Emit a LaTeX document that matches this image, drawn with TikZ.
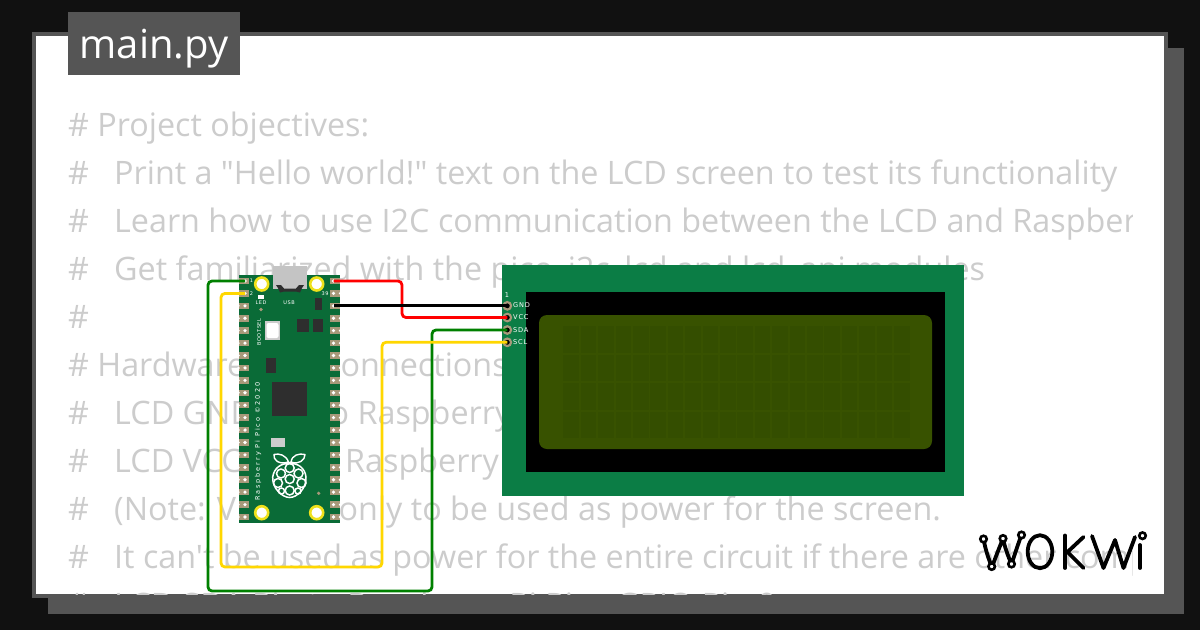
\documentclass[tikz,border=0pt]{standalone}
\usepackage{fontspec}
\setmainfont{Open Sans}
\newfontfamily\codefont{Open Sans}
\newfontfamily\tinyfont[LetterSpace=12]{DejaVu Sans}
\newfontfamily\widefont[LetterSpace=30]{DejaVu Sans}
\usepackage{tikz}

\definecolor{pageblack}{HTML}{111111}
\definecolor{framegray}{HTML}{555555}
\definecolor{codegray}{HTML}{CCCCCC}
\definecolor{usbgray}{HTML}{C4C4C4}
\definecolor{picogreen}{HTML}{0A6B37}
\definecolor{padtan}{HTML}{A8997A}
\definecolor{chipgray}{HTML}{2E2E2E}
\definecolor{ringyellow}{HTML}{EFE11B}
\definecolor{lcdgreen}{HTML}{0B7D45}
\definecolor{lcdscreen}{HTML}{385200}
\definecolor{lcdcell}{HTML}{344E00}
\definecolor{wiregreen}{HTML}{008000}
\definecolor{wireyellow}{HTML}{FFD700}

\tikzset{
  codeline/.style={anchor=base west, inner sep=0pt, text=codegray, font=\codefont\fontsize{32.3}{38}\selectfont},
  picopad/.style={minimum width=10.5pt, minimum height=6.5pt, inner sep=0pt, fill=padtan},
  padhole/.style={circle, fill=white, minimum size=3.6pt, inner sep=0pt},
  padnotch/.style={circle, fill=white, minimum size=2.6pt, inner sep=0pt},
  mountring/.style={circle, draw=ringyellow, line width=2.6pt, fill=white, minimum size=13pt, inner sep=0pt},
  chip/.style={fill=chipgray},
  picotext/.style={inner sep=0pt, text=white, font=\tinyfont\fontsize{5}{6}\selectfont},
  lcdpin/.style={circle, draw=padtan, line width=2.2pt, fill=black, minimum size=7.5pt, inner sep=0pt},
  lcdtext/.style={anchor=west, inner sep=0pt, text=white, font=\tinyfont\fontsize{6.6}{8}\selectfont},
  wire/.style={line width=2.8pt, rounded corners=4pt},
  logostroke/.style={line width=3.8pt, line cap=round, line join=round, draw=black},
  logodot/.style={circle, draw=black, line width=2.6pt, fill=white, minimum size=6.5pt, inner sep=0pt},
  berry/.style={circle, draw=white, line width=1.5pt, minimum size=9pt, inner sep=0pt},
}

\begin{document}
\begin{tikzpicture}[x=1pt, y=-1pt]
  \useasboundingbox (0, 0) rectangle (1200, 630);
  % page and frame
  \fill[pageblack] (0, 0) rectangle (1200, 630);
  \fill[framegray] (48, 48) rectangle (1184, 614);
  \fill[framegray] (32, 32) rectangle (1168, 598);
  \fill[white] (36, 36) rectangle (1164, 594);
  \fill[framegray] (68, 12) rectangle (240, 75);
  \node[anchor=base, inner sep=0pt, text=white, font=\fontsize{40}{46}\selectfont] (title) at (154, 58) {main.py};

  % code text
  \begin{scope}
    \clip (36, 36) rectangle (1132, 594);
    \node[codeline] (l1) at (68, 136) {\#\ Project objectives:};
    \node[codeline] (l2) at (68, 184) {\#\ \ \ Print a "Hello world!" text on the LCD screen to test its functionality};
    \node[codeline] (l3) at (68, 232) {\#\ \ \ Learn how to use I2C communication between the LCD and Raspberry Pi Pico};
    \node[codeline] (l4) at (68, 280) {\#\ \ \ Get familiarized with the pico\_i2c\_lcd and lcd\_api modules};
    \node[codeline] (l5) at (68, 328) {\#};
    \node[codeline] (l6) at (68, 376) {\#\ Hardware pins connections:};
    \node[codeline] (l7) at (68, 424) {\#\ \ \ LCD GND Pin to Raspberry Pi Pico GND};
    \node[codeline] (l8) at (68, 472) {\#\ \ \ LCD VCC Pin to Raspberry Pi Pico VBUS};
    \node[codeline] (l9) at (68, 520) {\#\ \ \ (Note: VBUS is only to be used as power for the screen.};
    \node[codeline] (l10) at (68, 568) {\#\ \ \ It can't be used as power for the entire circuit if there are other components};
    \node[codeline] (l11) at (68, 616) {\#\ \ \ LCD SDA Pin to Raspberry Pi Pico GPIO Pin 0};
  \end{scope}

  % pico board
  \fill[picogreen] (238.5, 275) rectangle (340, 523);
  \fill[usbgray] (273, 265.5) rectangle (307, 289);
  \fill[chipgray] (276, 285) -- (281, 285) -- (284, 288.5) -- (296, 288.5) -- (299, 285) -- (304, 285) -- (302, 288) -- (300, 292.5) -- (296, 291.5) -- (284, 291.5) -- (280, 292.5) -- (278, 288) -- cycle;
  \foreach \n in {1,...,20} {
    \pgfmathsetmacro{\py}{281 + (\n - 1) * 12.42}
    \node[picopad] (pl\n) at (243.75, \py) {};
    \node[picopad] (pr\n) at (334.75, \py) {};
    \node[padhole] (hl\n) at (245, \py) {};
    \node[padhole] (hr\n) at (333.5, \py) {};
    \node[padnotch] (nl\n) at (238.5, \py) {};
    \node[padnotch] (nr\n) at (340, \py) {};
  }
  \node[mountring] (m1) at (261.7, 284) {};
  \node[mountring] (m2) at (316.7, 284) {};
  \node[mountring] (m3) at (261.7, 512.7) {};
  \node[mountring] (m4) at (316.7, 512.7) {};
  \fill[chip] (315, 298.3) rectangle (321.7, 310);
  \fill[chip] (297.3, 319.3) rectangle (309.3, 331.7);
  \fill[chip] (313.3, 319.3) rectangle (323.3, 331.7);
  \fill[chip] (266, 358.3) rectangle (276, 372.7);
  \fill[chip] (272, 381.7) rectangle (306.7, 415.7);
  \fill[white] (258, 295) rectangle (264, 298.5);
  \fill[padtan] (261, 309.5) circle (1.8);
  \fill[padtan] (318.7, 493.3) circle (1.8);
  \fill[codegray] (265, 321) rectangle (280, 340);
  \fill[white, rounded corners=2pt] (266.5, 323) rectangle (278.5, 338);
  \fill[codegray] (270.7, 437.7) rectangle (285, 447.3);
  \node[picotext] (ledlabel) at (261, 302.5) {LED};
  \node[picotext] (usblabel) at (289, 302.5) {USB};
  \node[picotext] (pinone) at (251.5, 281) {1};
  \node[picotext] (pintwo) at (251.5, 293.5) {2};
  \node[picotext] (pinforty) at (325, 293.5) {39};
  \node[picotext, rotate=90] (bootlabel) at (259, 332) {BOOTSEL};
  \node[picotext, rotate=90, anchor=west, font=\widefont\fontsize{6.5}{8}\selectfont] (picolabel) at (258, 501) {Raspberry Pi Pico \textcopyright 2020};

  % raspberry logo
  \draw[white, line width=1.4pt, line join=round] (288.5, 462) .. controls (286, 455) and (279, 453) .. (274, 454.5) .. controls (273, 460) and (279, 465) .. (288.5, 462) .. controls (290, 464) and (291, 464) .. (291, 462) .. controls (299, 465) and (305, 460) .. (305, 454.5) .. controls (299, 453) and (292, 455) .. (291, 462);
  \draw[white, line width=1.5pt, fill=picogreen] (289.7, 463.5) .. controls (298, 463) and (305, 468) .. (306, 477) .. controls (307, 488) and (297, 497.5) .. (289.7, 497.5) .. controls (282, 497.5) and (272, 488) .. (272.7, 477) .. controls (274, 468) and (281, 463) .. (289.7, 463.5) -- cycle;
  \node[berry] (b1) at (289.7, 468) {};
  \node[berry] (b2) at (281, 473.5) {};
  \node[berry] (b3) at (298.5, 473.5) {};
  \node[berry] (b4) at (289.7, 479) {};
  \node[berry] (b5) at (278, 483) {};
  \node[berry] (b6) at (301.5, 483) {};
  \node[berry] (b7) at (289.7, 490.5) {};
  \node[berry, minimum size=6pt] (b8) at (281.5, 491) {};
  \node[berry, minimum size=6pt] (b9) at (298, 491) {};

  % lcd board
  \fill[lcdgreen] (502, 265) rectangle (964, 496);
  \fill[black] (526, 292) rectangle (945, 472);
  \fill[lcdscreen, rounded corners=8pt] (539, 315) rectangle (932, 449);
  \foreach \col in {0,...,19} {
    \foreach \row in {0,...,3} {
      \fill[lcdcell] (563.3 + \col * 17.4, 326 + \row * 28.5) rectangle ++(15.6, 26.5);
    }
  }
  \node[lcdpin] (gnd) at (507.3, 305.84) {};
  \node[lcdpin] (vcc) at (507.3, 317.5) {};
  \node[lcdpin] (sda) at (507.3, 330) {};
  \node[lcdpin] (scl) at (507.3, 342.3) {};
  \node[lcdtext] (gndlabel) at (513, 305) {GND};
  \node[lcdtext] (vcclabel) at (513, 317.5) {VCC};
  \node[lcdtext] (sdalabel) at (513, 330) {SDA};
  \node[lcdtext] (scllabel) at (513, 342.3) {SCL};
  \node[lcdtext, anchor=center] (lcdone) at (507, 295.5) {1};

  % wires
  \coordinate (redtop) at (402, 281);
  \coordinate (greenbottom) at (208, 591);
  \coordinate (greenright) at (432, 591);
  \coordinate (yellowbottom) at (221, 567);
  \coordinate (yellowright) at (382, 567);
  \draw[wire, red] (hr1.center) -- (redtop) |- (vcc.center);
  \draw[wire, black] (hr3.center) -- (gnd.center);
  \draw[wire, wiregreen] (hl1.center) -| (greenbottom) -- (greenright) |- (sda.center);
  \draw[wire, wireyellow] (hl2.center) -| (yellowbottom) -- (yellowright) |- (scl.center);

  % logo
  \draw[logostroke] (983.5, 539) .. controls (986, 552) and (989, 560) .. (992, 567) .. controls (996, 556) and (1000, 546) .. (1003, 538.5) .. controls (1005, 548) and (1008, 556) .. (1011.5, 564) .. controls (1015, 554) and (1018, 544) .. (1021.5, 535);
  \draw[logostroke] (1040, 551.7) ellipse (12.3 and 16.5);
  \draw[logostroke] (1065, 535.5) -- (1065, 568);
  \draw[logostroke] (1083.5, 537) -- (1067.5, 552) -- (1083.5, 568);
  \draw[logostroke] (1092, 536) -- (1103.5, 568) -- (1115, 540) -- (1123.5, 568) -- (1135, 537);
  \draw[logostroke] (1140, 545) -- (1140, 568);
  \node[logodot] (d1) at (983.5, 539) {};
  \node[logodot] (d2) at (1003, 538.5) {};
  \node[logodot] (d3) at (1021.5, 535) {};
  \node[logodot] (d4) at (991.7, 566.5) {};
  \node[logodot] (d5) at (1011.5, 564) {};
  \node[logodot] (d6) at (1142.5, 535.7) {};
\end{tikzpicture}
\end{document}
